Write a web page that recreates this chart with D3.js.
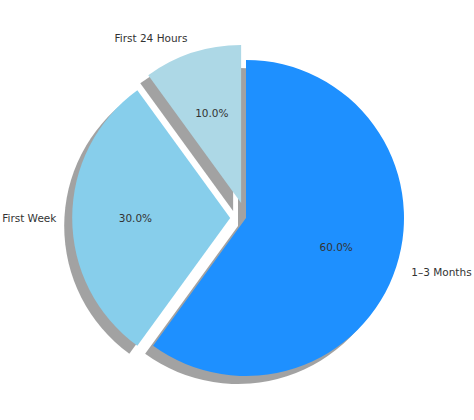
<!DOCTYPE html>
<html><head><meta charset="utf-8">
<script src="https://cdn.jsdelivr.net/npm/d3@7"></script>
<style>body{margin:0;background:#fff}text{font-family:"DejaVu Sans",sans-serif;font-size:10.5px;fill:#333}</style>
</head><body><svg id="chart" width="474" height="420"></svg>
<script>
const labels = ["First 24 Hours", "First Week", "1–3 Months"];
const values = [10, 30, 60];
const colors = ["#ADD8E6", "#87CEEB", "#1E90FF"];
const explode = [0.1, 0.1, 0];

const cx = 246, cy = 218, r = 158;
const svg = d3.select("#chart");
const pie = d3.pie().sort(null).value(d => d.v).startAngle(0).endAngle(-2 * Math.PI);
const arcs = pie(values.map((v, i) => ({v, label: labels[i], color: colors[i], ex: explode[i]})));
const arc = d3.arc().innerRadius(0).outerRadius(r);
const total = d3.sum(values);

function off(d, k) {
  const a = (d.startAngle + d.endAngle) / 2;
  return [Math.sin(a) * k, -Math.cos(a) * k];
}

// shadows first
svg.selectAll("path.shadow").data(arcs).join("path")
  .attr("class", "shadow")
  .attr("d", arc)
  .attr("fill", "#555").attr("opacity", 0.55)
  .attr("transform", d => { const [dx, dy] = off(d, d.data.ex * r); return `translate(${cx + dx - 8},${cy + dy + 8})`; });

svg.selectAll("path.slice").data(arcs).join("path")
  .attr("class", "slice")
  .attr("d", arc)
  .attr("fill", d => d.data.color)
  .attr("transform", d => { const [dx, dy] = off(d, d.data.ex * r); return `translate(${cx + dx},${cy + dy})`; });

svg.selectAll("text.pct").data(arcs).join("text")
  .attr("class", "pct")
  .attr("text-anchor", "middle").attr("dominant-baseline", "central")
  .attr("x", d => cx + off(d, (0.6 + d.data.ex) * r)[0])
  .attr("y", d => cy + off(d, (0.6 + d.data.ex) * r)[1])
  .text(d => (d.data.v / total * 100).toFixed(1) + "%");

svg.selectAll("text.lab").data(arcs).join("text")
  .attr("class", "lab")
  .attr("dominant-baseline", "central")
  .attr("text-anchor", d => off(d, 1)[0] < 0 ? "end" : "start")
  .attr("x", d => cx + off(d, (1.1 + d.data.ex) * r)[0])
  .attr("y", d => cy + off(d, (1.1 + d.data.ex) * r)[1])
  .text(d => d.data.label);
</script></body></html>
